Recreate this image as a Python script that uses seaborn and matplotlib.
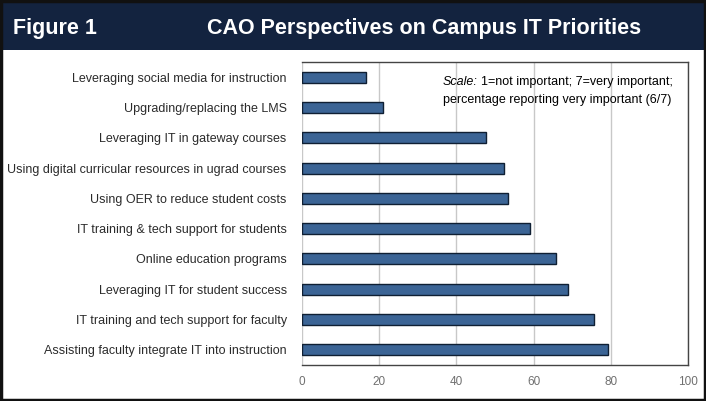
import matplotlib
matplotlib.use('Agg')
from matplotlib import pyplot as plt
from matplotlib.patches import Rectangle
import pandas as pd
import seaborn as sns

# priorities, top to bottom as in the chart
priorities = ['Leveraging social media for instruction',
              'Upgrading/replacing the LMS',
              'Leveraging IT in gateway courses',
              'Using digital curricular resources in ugrad courses',
              'Using OER to reduce student costs',
              'IT training & tech support for students',
              'Online education programs',
              'Leveraging IT for student success',
              'IT training and tech support for faculty',
              'Assisting faculty integrate IT into instruction']
pct_very_important = [16.5, 20.9, 47.6, 52.3, 53.4, 59.0, 65.8, 69.0, 75.6, 79.4]
xticks = [0, 20, 40, 60, 80, 100]

df = pd.DataFrame({'priority': priorities, 'pct': pct_very_important})

sns.set_style('white')
plt.rcParams['font.family'] = ['Liberation Sans', 'DejaVu Sans']

fig = plt.figure(figsize=(7.06, 4.01), dpi=100)
fig.patch.set_facecolor('white')

# header band and frame
fig.add_artist(Rectangle((0, 0.875), 1, 0.125, transform=fig.transFigure,
                         facecolor='#13233f', edgecolor='none', zorder=0))
fig.add_artist(Rectangle((0.002, 0.003), 0.996, 0.994, transform=fig.transFigure,
                         facecolor='none', edgecolor='#111111', linewidth=2.5, zorder=5))
fig.text(0.018, 0.93, 'Figure 1', color='white', fontsize=15.5, fontweight='bold',
         va='center', ha='left')
fig.text(0.60, 0.93, 'CAO Perspectives on Campus IT Priorities', color='white',
         fontsize=15.5, fontweight='bold', va='center', ha='center')

ax = fig.add_axes([302 / 706, 1 - 365 / 401, (688 - 302) / 706, (365 - 62) / 401])
sns.barplot(data=df, x='pct', y='priority', orient='h', color='#3b6495',
            edgecolor='#0f1f33', linewidth=1.0, width=0.36, saturation=1, ax=ax)

ax.set_xlim(0, 100)
ax.set_xticks(xticks)
ax.set_xlabel('')
ax.set_ylabel('')
ax.xaxis.grid(True, color='#c8c8c8', linewidth=1)
ax.set_axisbelow(True)
ax.tick_params(axis='x', labelsize=8.5, colors='#707070', length=0, pad=8)
ax.tick_params(axis='y', labelsize=9, colors='#2b2b2b', length=0, pad=11)
for side in ['top', 'right', 'bottom']:
    ax.spines[side].set_color('#444444')
    ax.spines[side].set_linewidth(1)
ax.spines['left'].set_visible(False)

# scale note: italic "Scale:" followed by the rest
t1 = ax.text(0.365, 0.935, 'Scale:', transform=ax.transAxes, fontsize=9,
             fontstyle='italic', color='black', va='center')
ax.annotate('1=not important; 7=very important;', xy=(1, 0.5), xycoords=t1,
            xytext=(2.5, 0), textcoords='offset points',
            fontsize=9, color='black', va='center', ha='left')
ax.text(0.365, 0.875, 'percentage reporting very important (6/7)',
        transform=ax.transAxes, fontsize=9, color='black', va='center')

fig.savefig('out.png', dpi=100)
